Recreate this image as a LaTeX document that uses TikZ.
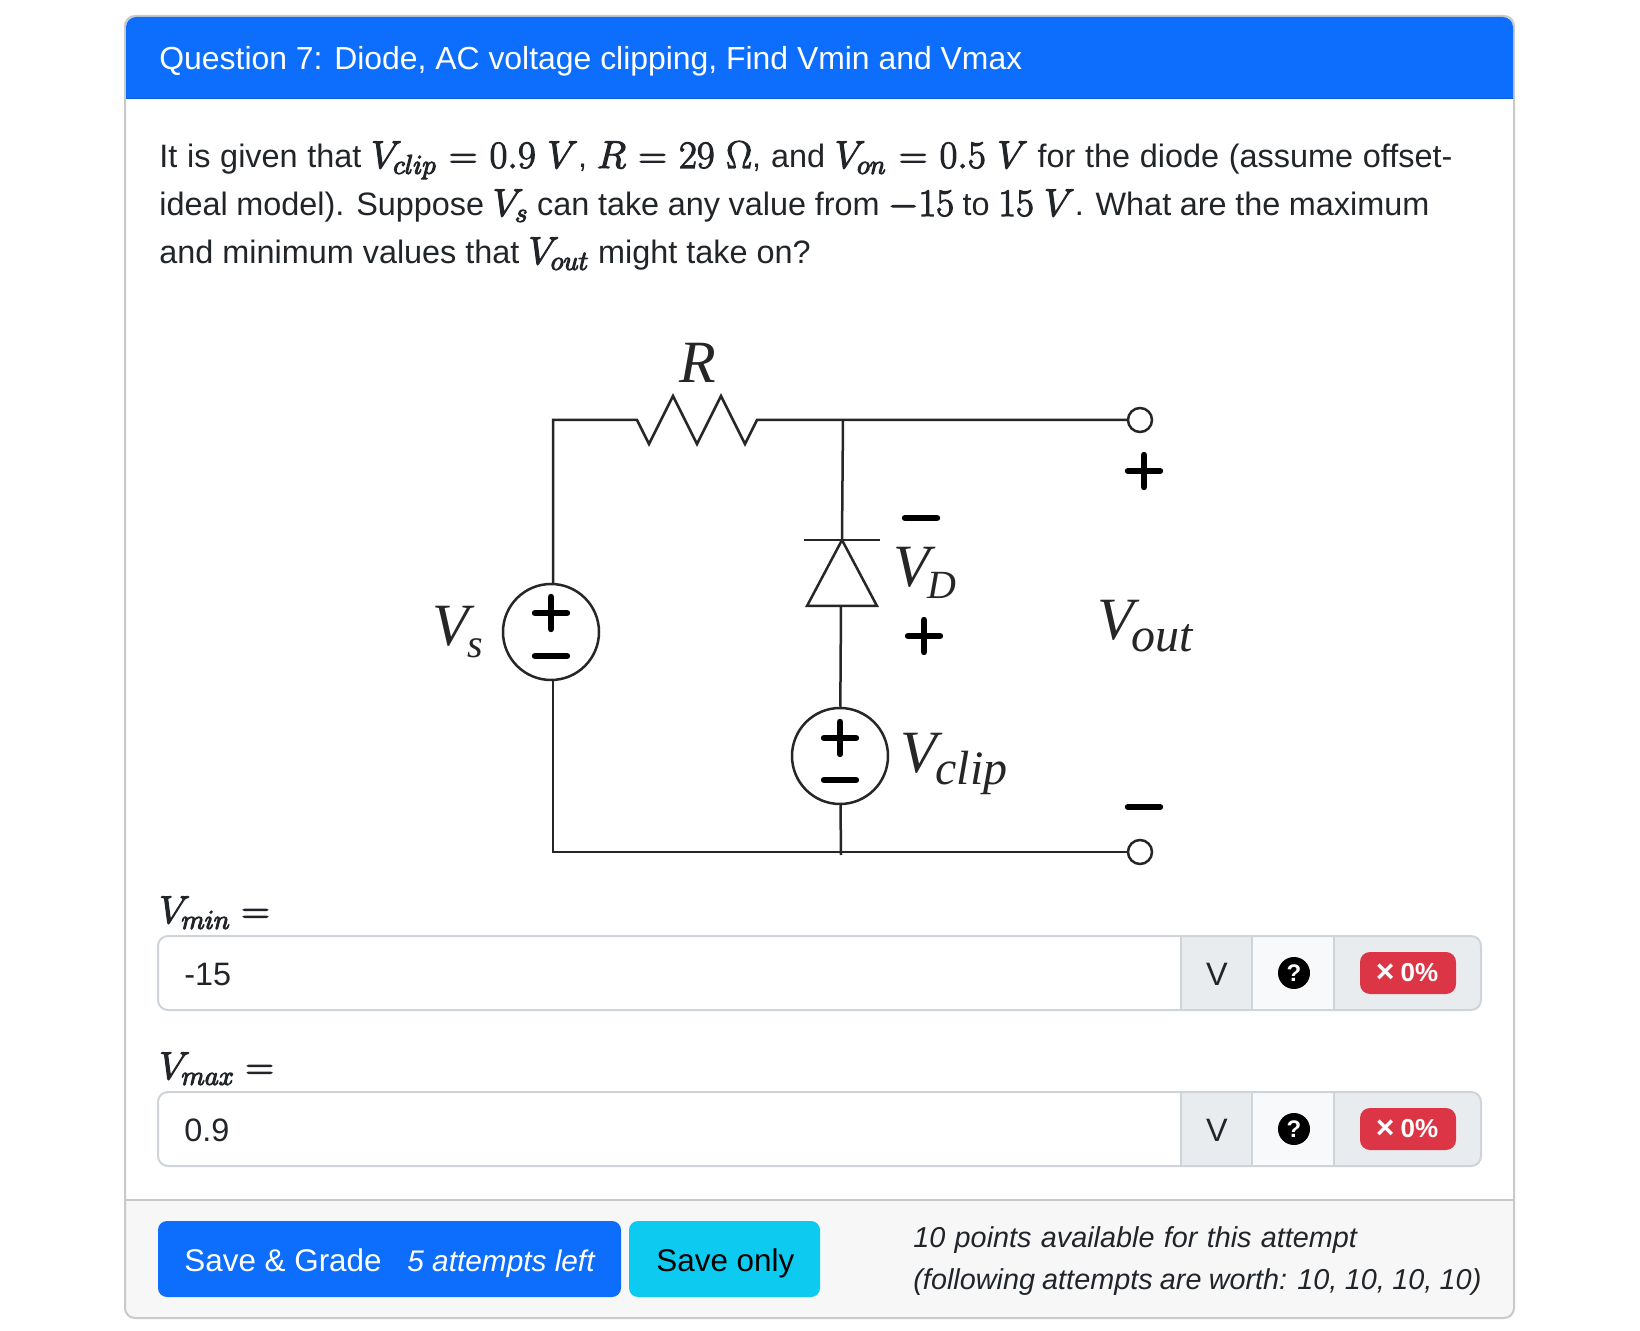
\documentclass[tikz,border=0pt]{standalone}
\usepackage{fix-cm}
\usepackage[no-math]{fontspec}
\setmainfont{Liberation Sans}
\newfontfamily\cirfont{Liberation Serif}
\definecolor{cardblue}{HTML}{0D6EFD}
\definecolor{cardedge}{HTML}{C9C9C9}
\definecolor{footgray}{HTML}{F7F7F7}
\definecolor{inkgray}{HTML}{212529}
\definecolor{inputedge}{HTML}{CED4DA}
\definecolor{addongray}{HTML}{E9ECEF}
\definecolor{helpgray}{HTML}{F8F9FA}
\definecolor{badgered}{HTML}{DC3545}
\definecolor{savecyan}{HTML}{0DCAF0}
\newcommand{\mth}[1]{{\fontsize{19.4}{24}\selectfont\special{pdf:code 2 Tr 0.55 w}$#1$\special{pdf:code 0 Tr 1 w}}}
\newcommand{\cirlabel}[3][24]{{\cirfont\itshape\fontsize{30}{30}\selectfont #2\kern-1pt\raisebox{-6pt}{\fontsize{#1}{#1}\selectfont #3}}}
\tikzset{
  bodytext/.style={anchor=base west,inner sep=0pt,text=inkgray,font=\fontsize{16.2}{20}\selectfont},
  titletext/.style={bodytext,text=white,font=\fontsize{15.95}{20}\selectfont},
  btntext/.style={bodytext,font=\fontsize{15.7}{20}\selectfont},
  smalltext/.style={anchor=base west,inner sep=0pt,text=inkgray,font=\fontsize{14.4}{18}\selectfont\itshape},
  wire/.style={line width=1.25pt,black!85},
  signmark/.style={line width=3.2pt,line cap=round,black},
  sourcenode/.style={circle,draw=black!85,line width=1.25pt,minimum size=48pt,inner sep=0pt},
  terminal/.style={circle,draw=black!85,line width=1.25pt,fill=white,minimum size=12pt,inner sep=0pt},
  cirtext/.style={inner sep=0pt,text=black!85},
}
\begin{document}
\begin{tikzpicture}[x=.5pt,y=-.5pt]
        \useasboundingbox (0,0) rectangle (1640,1331);
        % card
        \fill[white] (0,0) rectangle (1640,1331);
        \fill[footgray] (125,1200) [rounded corners=5pt] -- (125,1318) -- (1514,1318) [sharp corners] -- (1514,1200) -- cycle;
        \draw[cardedge,line width=1pt,rounded corners=5pt] (125,16) rectangle (1514,1318);
        \fill[cardblue] (126,99) [rounded corners=5pt] -- (126,17) -- (1513,17) [sharp corners] -- (1513,99) -- cycle;
        \draw[cardblue!85!black,line width=.6pt] (126,98.5) -- (1513,98.5);
        \draw[cardedge,line width=1pt] (125,1200) -- (1514,1200);
        \node[titletext] (title) at (159,70) {Question 7: Diode, AC voltage clipping, Find Vmin and Vmax};
        % question text
        \node[bodytext] (lineone) at (159,168) {\makebox[646.5pt][s]{It is given that \mth{V_{clip}=0.9\ V}, \mth{R=29\ \Omega}, and \mth{V_{on}=0.5\ V} for the diode (assume offset-}};
        \node[bodytext] (linetwo) at (159,216) {\makebox[635pt][s]{ideal model). Suppose \mth{V_s} can take any value from \mth{-15} to \mth{15\ V}. What are the maximum}};
        \node[bodytext] (linethree) at (159,264) {and minimum values that \mth{V_{out}} might take on?};
        % circuit
        \coordinate (topleft) at (553,420);
        \coordinate (botleft) at (553,852);
        \coordinate (vstop) at (553,583);
        \coordinate (vsbot) at (553,681);
        \coordinate (rin) at (637,420);
        \coordinate (rout) at (757,420);
        \coordinate (topjoin) at (843,420);
        \coordinate (botjoin) at (841,855);
        \coordinate (barleft) at (804,540);
        \coordinate (barright) at (880,540);
        \coordinate (apex) at (842,540);
        \coordinate (baseleft) at (807,606);
        \coordinate (baseright) at (877,606);
        \coordinate (basemid) at (841,606);
        \node[sourcenode] (vsource) at (551,632) {};
        \node[sourcenode] (clipsource) at (840,756) {};
        \node[terminal] (outtop) at (1140,420) {};
        \node[terminal] (outbot) at (1140,852) {};
        \draw[wire] (vstop) -- (topleft) -- (rin) -- (649,444) -- (673,396) -- (697,444) -- (721,396) -- (745,444) -- (rout) -- (outtop);
        \draw[wire] (vsbot) -- (botleft) -- (outbot);
        \draw[wire] (topjoin) -- (apex);
        \draw[wire] (barleft) -- (barright);
        \draw[wire] (apex) -- (baseleft) -- (baseright) -- cycle;
        \draw[wire] (basemid) -- (clipsource);
        \draw[wire] (clipsource) -- (botjoin);
        \foreach \px/\py in {551/613,840/738,1144/471,924/636}
        \draw[signmark] ({\px-16},\py) -- ({\px+16},\py) (\px,{\py-16}) -- (\px,{\py+16});
        \foreach \px/\py in {551/656,840/780,1144/807,921/518}
        \draw[signmark] ({\px-16},\py) -- ({\px+16},\py);
        \node[cirtext] (rlabel) at (698,363) {\cirfont\itshape\fontsize{30}{30}\selectfont R};
        \node[cirtext] (vslabel) at (458,632) {\cirlabel[20]{V}{s}};
        \node[cirtext] (vdlabel) at (925,573) {\cirlabel[20]{V}{D}};
        \node[cirtext] (voutlabel) at (1145,626) {\cirlabel{V}{out}};
        \node[cirtext] (vcliplabel) at (954,764) {\cirlabel{V}{clip}};
        % answer rows
        \foreach \rowname/\ytop/\rowlabel/\rowval in {min/936/V_{min}=/-15,max/1092/V_{max}=/0.9}{
        \fill[addongray] (1181,\ytop) rectangle (1252,{\ytop+74});
        \fill[helpgray] (1252,\ytop) rectangle (1334,{\ytop+74});
        \fill[addongray] (1334,{\ytop+74}) [rounded corners=5pt] -- (1481,{\ytop+74}) -- (1481,\ytop) [sharp corners] -- (1334,\ytop) -- cycle;
        \draw[inputedge,line width=1pt,rounded corners=5pt] (158,\ytop) rectangle (1481,{\ytop+74});
        \draw[inputedge,line width=1pt] (1181,\ytop) -- (1181,{\ytop+74}) (1252,\ytop) -- (1252,{\ytop+74}) (1334,\ytop) -- (1334,{\ytop+74});
        \node[bodytext] (\rowname label) at (159,{\ytop-13}) {\mth{\rowlabel}};
        \node[bodytext] (\rowname value) at (184,{\ytop+49.5}) {\rowval};
        \node[bodytext,anchor=base] (\rowname unit) at (1217,{\ytop+49.5}) {V};
        \node[circle,fill=black,text=white,minimum size=16pt,inner sep=0pt,font=\fontsize{12}{12}\selectfont\bfseries] (\rowname help) at (1294,{\ytop+37}) {?};
        \fill[badgered,rounded corners=5pt] (1360,{\ytop+16}) rectangle (1456,{\ytop+58});
        \node[inner sep=0pt,text=white,font=\fontsize{13}{13}\selectfont\bfseries] (\rowname badge) at (1407,{\ytop+37}) {{\fontsize{16}{13}\selectfont\raisebox{-.8pt}{×}}\kern3pt0\%};
        }
        % footer
        \fill[cardblue,rounded corners=4.5pt] (158,1221) rectangle (621,1297);
        \fill[savecyan,rounded corners=4.5pt] (629,1221) rectangle (820,1297);
        \node[btntext,text=white] (gradetext) at (184,1271) {Save \& Grade};
        \node[smalltext,text=white,font=\fontsize{14.9}{18}\selectfont\itshape] (attemptstext) at (407,1271) {5 attempts left};
        \node[btntext,text=black] (savetext) at (656,1271) {Save only};
        \node[smalltext] (pointstext) at (913,1247) {\makebox[221.8pt][s]{10 points available for this attempt}};
        \node[smalltext] (worthtext) at (913,1289) {\makebox[284pt][s]{(following attempts are worth: 10, 10, 10, 10)}};
\end{tikzpicture}
\end{document}
